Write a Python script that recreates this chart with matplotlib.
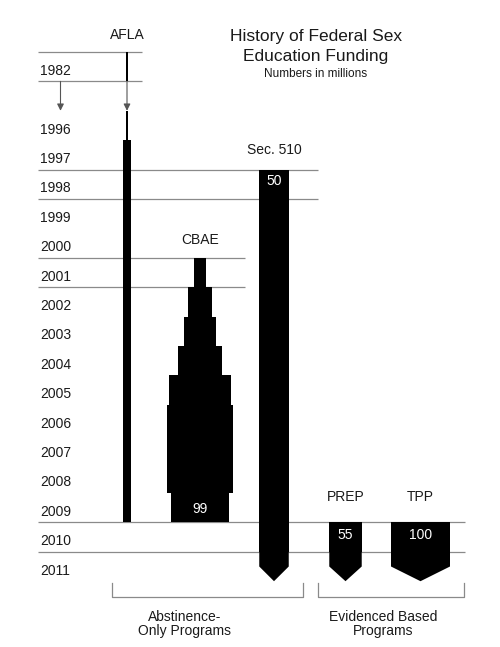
# History of Federal Sex Education Funding - stacked-year "tower" infographic
# each program is a column, one row per year, bar width = funding (millions)

import numpy as np
import matplotlib.pyplot as plt
from matplotlib.patches import Polygon

plt.rcParams['font.family'] = ['Liberation Sans', 'DejaVu Sans']

# data
years = [1982] + list(range(1996, 2012))
afla_years = [1982] + list(range(1996, 2010))
afla_vals = [5, 5, 12, 12, 12, 12, 12, 12, 12, 12, 14, 14, 14, 14, 14]
cbae_years = list(range(2001, 2010))
cbae_vals = [20, 40, 55, 75, 104, 113, 113, 113, 99]
sec510_years = list(range(1998, 2012))
sec510_vals = [50] * len(sec510_years)
prep_years = [2010, 2011]
prep_vals = [55, 55]
tpp_years = [2010, 2011]
tpp_vals = [100, 100]

PX = 0.59      # pixels per million
ROW = 29.4     # pixels per year row
Y0 = 52        # pixel y of the first row


def row(y):
    # 1982 is row 0, one blank row for the jump, then 1996 onward
    return 0 if y == 1982 else y - 1994


def X(px):
    return px / PX


fig = plt.figure(figsize=(5, 6.47), dpi=100)
ax = fig.add_axes([0, 0, 1, 1])
ax.set_xlim(0, X(500))
ax.set_ylim((647 - Y0) / ROW, -Y0 / ROW)
ax.axis('off')

grey = '#8a8a8a'
ink = '#1a1a1a'

# year labels
for y in years:
    ax.text(X(40), row(y) + 0.64, str(y), fontsize=10, color=ink,
            ha='left', va='center')

# row guide lines where programs begin
for r0, xr in [(0, 142), (4, 318), (7, 245), (16, 465)]:
    ax.hlines([r0, r0 + 1], X(38), X(xr), color=grey, lw=0.9, zorder=1)


def column(center, yrs, vals, pointed=False):
    rows = np.array([row(y) for y in yrs])
    vals = np.array(vals, dtype=float)
    n = len(rows) - 1 if pointed else len(rows)
    ax.barh(rows[:n], vals[:n], left=center - vals[:n] / 2, height=1.0,
            align='edge', color='black', linewidth=0, zorder=3)
    if pointed:
        r, w = rows[-1], vals[-1]
        pts = [(center - w / 2, r), (center + w / 2, r), (center + w / 2, r + 0.5),
               (center, r + 1), (center - w / 2, r + 0.5)]
        ax.add_patch(Polygon(pts, closed=True, color='black', lw=0, zorder=3))


c_afla, c_cbae, c_510, c_prep, c_tpp = X(127), X(200), X(274), X(345.5), X(420.5)

column(c_afla, afla_years, afla_vals)
column(c_cbae, cbae_years, cbae_vals)
column(c_510, sec510_years, sec510_vals, pointed=True)
column(c_prep, prep_years, prep_vals, pointed=True)
column(c_tpp, tpp_years, tpp_vals, pointed=True)

# arrows across the 1982 -> 1996 jump
for xa in [X(60.5), c_afla]:
    ax.annotate('', xy=(xa, 2.0), xytext=(xa, 1.0),
                arrowprops=dict(arrowstyle='-|>', color='#555555', lw=0.8,
                                mutation_scale=10, shrinkA=0, shrinkB=0),
                zorder=5)

# program names
for name, cx, r0, off in [('AFLA', c_afla, 0, 0.57), ('CBAE', c_cbae, 7, 0.6),
                          ('Sec. 510', c_510, 4, 0.65), ('PREP', c_prep, 16, 0.88),
                          ('TPP', c_tpp, 16, 0.88)]:
    ax.text(cx, r0 - off, name, fontsize=10, color=ink, ha='center', va='center')

# values inside bars
for val, cx, r in [(50, c_510, 4.4), (99, c_cbae, 15.55), (55, c_prep, 16.42),
                   (100, c_tpp, 16.42)]:
    ax.text(cx, r, str(val), fontsize=10, color='white', ha='center',
            va='center', zorder=6)

# title
ax.text(X(316), (36 - Y0) / ROW, 'History of Federal Sex', fontsize=12.5,
        color=ink, ha='center', va='center')
ax.text(X(316), (57 - Y0) / ROW, 'Education Funding', fontsize=12.5,
        color=ink, ha='center', va='center')
ax.text(X(316), (74 - Y0) / ROW, 'Numbers in millions', fontsize=8.5,
        color=ink, ha='center', va='center')

# group brackets
yb0, yb1 = (583 - Y0) / ROW, (597 - Y0) / ROW
for xl, xr in [(112, 303), (318, 464)]:
    ax.plot([X(xl), X(xl), X(xr), X(xr)], [yb0, yb1, yb1, yb0], color=grey, lw=0.9)

ax.text(X(185), (624 - Y0) / ROW, 'Abstinence-\nOnly Programs', fontsize=10,
        color=ink, ha='center', va='center', linespacing=1.05)
ax.text(X(383), (624 - Y0) / ROW, 'Evidenced Based\nPrograms', fontsize=10,
        color=ink, ha='center', va='center', linespacing=1.05)

plt.savefig('out.png', dpi=100)
